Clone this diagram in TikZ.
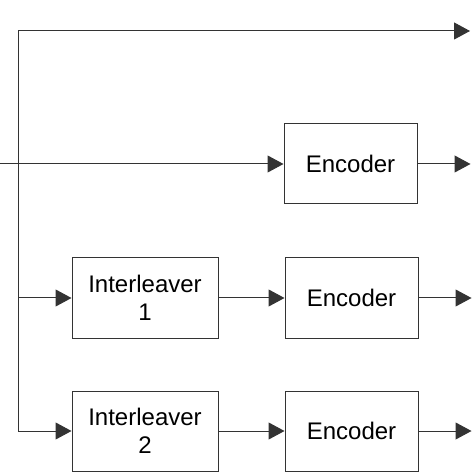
\documentclass[tikz,border=0pt]{standalone}
\usepackage{fontspec}
\setmainfont{Liberation Sans}
\usetikzlibrary{arrows.meta, positioning}

\begin{document}
\begin{tikzpicture}[x=0.5pt, y=-0.5pt, ->, >={Triangle[length=8pt, width=8.5pt]},
    line width=0.5pt, draw=black!80]
    \tikzstyle{block} = [draw=black!80, text centered, align=center, minimum height=40pt,
        inner sep=0pt, font=\fontsize{12}{14}\selectfont]
    \useasboundingbox (0,0) rectangle (474,474);
    \node [block, minimum width=73pt] at (145,298) (inter1) {Interleaver\\1};
    \node [block, minimum width=66.5pt, right=33pt of inter1] (enc2) {Encoder};
    \node [block, minimum width=66.5pt] at (350.5,164) (enc1) {Encoder};
    \node [block, minimum width=73pt] at (145,431) (inter2) {Interleaver\\2};
    \node [block, minimum width=66.5pt, right=33pt of inter2] (enc3) {Encoder};
    \coordinate (top) at (18,31);
    \coordinate (bot) at (18,431);
    \coordinate (in) at (0,164);
    \coordinate (out0) at (470,31);
    \coordinate [right=26.5pt of enc1] (out1);
    \coordinate [right=26.5pt of enc2] (out2);
    \coordinate [right=26.5pt of enc3] (out3);
    \draw[-] (top) to (bot);
    \draw (top) to (out0);
    \draw (in) to (enc1.west);
    \draw (top |- inter1.west) to (inter1.west);
    \draw (bot) to (inter2.west);
    \draw (inter1) to (enc2);
    \draw (inter2) to (enc3);
    \draw (enc1) to (out1);
    \draw (enc2) to (out2);
    \draw (enc3) to (out3);
\end{tikzpicture}
\end{document}
